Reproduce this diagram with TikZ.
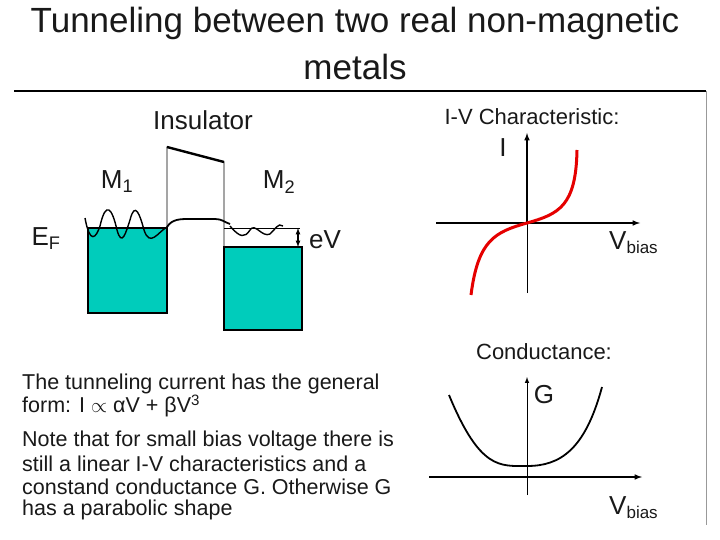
\documentclass[tikz,border=0pt]{standalone}
\usepackage{fontspec}
\setmainfont{Liberation Sans}
\begin{document}
\begin{tikzpicture}[x=1pt,y=-1pt,
  txt/.style={inner sep=0pt,text=black!90},
  axis/.style={line width=1.5pt,-latex},
  thinax/.style={line width=0.6pt},
  metal/.style={fill=teal2,draw=black,line width=1.2pt}]
\definecolor{teal2}{RGB}{0,204,187}
\useasboundingbox (0,0) rectangle (720,540);
\fill[white] (0,0) rectangle (720,540);
% title
\node[txt,font=\fontsize{35}{38}\selectfont] (t1) at (355,23) {Tunneling between two real non-magnetic};
\node[txt,font=\fontsize{35}{38}\selectfont] (t2) at (355,67) {metals};
\draw[line width=2.5pt] (14,91) -- (706,91);
\draw[black!40,line width=0.6pt] (706,91) -- (706,525);
% left diagram
\node[txt,font=\fontsize{26}{28}\selectfont] (ins) at (203,120) {Insulator};
\node[txt,font=\fontsize{26}{28}\selectfont] (m1) at (117,182) {M\textsubscript{1}};
\node[txt,font=\fontsize{26}{28}\selectfont] (m2) at (279,182) {M\textsubscript{2}};
\node[txt,font=\fontsize{26}{28}\selectfont] (ef) at (46,239) {E\textsubscript{F}};
\node[txt,font=\fontsize{26}{28}\selectfont] (ev) at (325,240) {eV};
\draw[metal] (88,228) rectangle (167,313);
\draw[metal] (224,247) rectangle (302,330);
\draw[line width=0.8pt] (167,228) -- (167,147) -- (224,162) -- (224,247);
\draw[line width=2.4pt] (167,147) -- (224,162);
\draw[line width=1.4pt] (85,218) .. controls (90,245) and (96,238) .. (100,226)
  .. controls (106,200) and (112,208) .. (117,230)
  .. controls (122,248) and (126,232) .. (130,220)
  .. controls (135,200) and (140,215) .. (144,230)
  .. controls (150,248) and (158,232) .. (167,227);
\draw[line width=1.8pt] (167,227) .. controls (172,219) and (180,219) .. (190,219) -- (215,219) .. controls (222,219) and (224,222) .. (230,224);
\draw[line width=0.8pt] (224,228) -- (300,228);
\draw[line width=1.4pt] (230,226) .. controls (240,238) and (245,238) .. (250,230)
  .. controls (255,222) and (262,238) .. (270,234) .. controls (275,230) and (278,222) .. (283,226);
\draw[line width=1.2pt,latex-latex] (298,228) -- (298,247);
% IV plot
\node[txt,font=\fontsize{22}{24}\selectfont] (ivt) at (532,117) {I-V Characteristic:};
\draw[thinax] (527,293) -- (527,223);
\draw[axis] (527,223) -- (527,133);
\draw[axis] (436,223) -- (640,223);
\node[txt,font=\fontsize{26}{28}\selectfont] (il) at (503,148) {I};
\node[txt,font=\fontsize{26}{28}\selectfont,anchor=west] (vb1) at (609,243) {V\textsubscript{\fontsize{17}{18}\selectfont bias}};
\draw[red!90!black,line width=3pt] (471,295) .. controls (478,240) and (495,232) .. (527,223)
  .. controls (559,214) and (576,206) .. (577,150);
% conductance
\node[txt,font=\fontsize{22}{24}\selectfont] (ct) at (544,352) {Conductance:};
\draw[thinax] (527,495) -- (527,385);
\draw[line width=1pt,-latex] (527,390) -- (527,377);
\draw[axis] (429,477) -- (642,477);
\node[txt,font=\fontsize{26}{28}\selectfont] (gl) at (544,395) {G};
\node[txt,font=\fontsize{26}{28}\selectfont,anchor=west] (vb2) at (609,508) {V\textsubscript{\fontsize{17}{18}\selectfont bias}};
\draw[line width=1.8pt] (449,395) .. controls (480,470) and (500,466) .. (527,466)
  .. controls (560,466) and (585,450) .. (602,387);
% text
\begin{scope}[every node/.style={txt,anchor=west,font=\fontsize{21.5}{23}\selectfont}]
\node (l1) at (22,384) {The tunneling current has the general};
\node (l2) at (22,406) {form: I $\propto$ αV + βV\textsuperscript{3}};
\node (l3) at (22,441) {Note that for small bias voltage there is};
\node (l4) at (22,464) {still a linear I-V characteristics and a};
\node (l5) at (22,487) {constand conductance G. Otherwise G};
\node (l6) at (22,510) {has a parabolic shape};
\end{scope}
\end{tikzpicture}
\end{document}
